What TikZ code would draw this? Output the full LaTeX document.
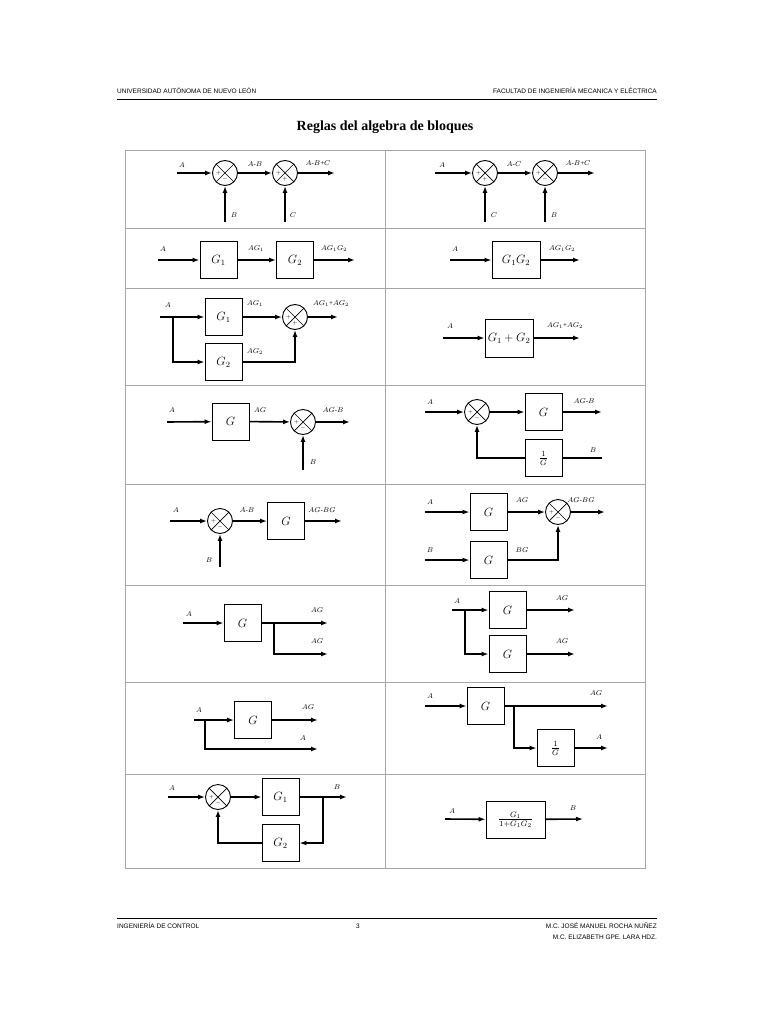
\documentclass[tikz,border=0pt]{standalone}
\usepackage{amsmath}
\usepackage{fontspec}
\setmainfont{Liberation Serif}
\setsansfont{Liberation Sans}
\usetikzlibrary{arrows.meta,calc,positioning}
\tikzset{
  sig/.style={line width=1.6pt,-{Latex[length=7pt,width=5pt]}},
  wire/.style={line width=1.6pt},
  blk/.style={draw,line width=0.9pt,minimum width=37pt,minimum height=37pt,inner sep=0pt,font=\large},
  sum/.style={circle,draw,line width=0.9pt,minimum size=25pt,inner sep=0pt,
    path picture={\draw[line width=0.7pt] (path picture bounding box.north west)--(path picture bounding box.south east)
      (path picture bounding box.north east)--(path picture bounding box.south west);}},
  lbl/.style={font=\scriptsize},
  hdr/.style={font=\sffamily\fontsize{6.5}{7}\selectfont,inner sep=0pt},
  grid/.style={line width=0.6pt,gray!70}
}
\newcommand{\sgn}[3]{\node[font=\tiny,inner sep=0pt] at ($(#1)+(-6.5,0)$) {$#2$};
  \node[font=\tiny,inner sep=0pt] at ($(#1)+(0,6.5)$) {$#3$};}
\begin{document}
\begin{tikzpicture}[x=1pt,y=-1pt]
    \useasboundingbox (0,0) rectangle (768,1024);
    % Header and footer
    \node[hdr,anchor=west] (uni) at (117,91) {UNIVERSIDAD AUTÓNOMA DE NUEVO LEÓN};
    \node[hdr,anchor=east] (fac) at (657,91) {FACULTAD DE INGENIERÍA MECANICA Y ELÉCTRICA};
    \draw[line width=0.5pt] (117,99) -- (657,99);
    \node[font=\bfseries\fontsize{14}{16}\selectfont] (title) at (385,127) {Reglas del algebra de bloques};
    \draw[line width=0.5pt] (117,918) -- (657,918);
    \node[hdr,anchor=west] (ing) at (117,926) {INGENIERÍA DE CONTROL};
    \node[hdr] (pg) at (358,926) {3};
    \node[hdr,anchor=east] (au1) at (657,926) {M.C. JOSÉ MANUEL ROCHA NUÑEZ};
    \node[hdr,anchor=east] (au2) at (657,937) {M.C. ELIZABETH GPE. LARA HDZ.};
    % Table
    \draw[grid] (125,150) rectangle (645,868);
    \draw[grid] (385,150) -- (385,868);
    \foreach \y in {228,288,385,484,585,682,774}
        \draw[grid] (125,\y) -- (645,\y);

    % Row 1 left
    \coordinate (a1) at (177,173);
    \node[sum] (s1a) at (225,173) {}; \sgn{s1a}{+}{-}
    \node[sum] (s1b) at (285,173) {}; \sgn{s1b}{+}{+}
    \coordinate (o1) at (335,173);
    \coordinate (b1) at (225,222); \coordinate (c1) at (285,222);
    \draw[sig] (a1) -- (s1a); \draw[sig] (s1a) -- (s1b); \draw[sig] (s1b) -- (o1);
    \draw[sig] (b1) -- (s1a); \draw[sig] (c1) -- (s1b);
    \node[lbl] at (182,165) {$A$}; \node[lbl] at (255,164) {$A\text{-}B$};
    \node[lbl] at (318,163) {$A\text{-}B\text{+}C$};
    \node[lbl] at (234,215) {$B$}; \node[lbl] at (293,215) {$C$};
    % Row 1 right
    \coordinate (a1r) at (435,173);
    \node[sum] (s1c) at (485,173) {}; \sgn{s1c}{+}{+}
    \node[sum] (s1d) at (545,173) {}; \sgn{s1d}{+}{-}
    \coordinate (o1r) at (595,173);
    \coordinate (c1r) at (485,222); \coordinate (b1r) at (545,222);
    \draw[sig] (a1r) -- (s1c); \draw[sig] (s1c) -- (s1d); \draw[sig] (s1d) -- (o1r);
    \draw[sig] (c1r) -- (s1c); \draw[sig] (b1r) -- (s1d);
    \node[lbl] at (442,165) {$A$}; \node[lbl] at (514,164) {$A\text{-}C$};
    \node[lbl] at (578,163) {$A\text{-}B\text{+}C$};
    \node[lbl] at (494,215) {$C$}; \node[lbl] at (554,215) {$B$};

    % Row 2
    \coordinate (a2) at (158,260);
    \node[blk] (g21) at (218.5,260) {$G_1$};
    \node[blk] (g22) at (295,260) {$G_2$};
    \coordinate (o2) at (355,260);
    \draw[sig] (a2) -- (g21); \draw[sig] (g21) -- (g22); \draw[sig] (g22) -- (o2);
    \node[lbl] at (163,249) {$A$}; \node[lbl] at (256,249) {$AG_1$};
    \node[lbl] at (334,249) {$AG_1G_2$};
    \coordinate (a2r) at (450,260);
    \node[blk,minimum width=48pt] (g2r) at (516,260) {$G_1G_2$};
    \coordinate (o2r) at (580,260);
    \draw[sig] (a2r) -- (g2r); \draw[sig] (g2r) -- (o2r);
    \node[lbl] at (455,249) {$A$}; \node[lbl] at (562,249) {$AG_1G_2$};

    % Row 3
    \coordinate (a3) at (160,317); \coordinate (j3) at (173,317);
    \node[blk] (g31) at (223.5,317) {$G_1$};
    \node[blk] (g32) at (223.5,362) {$G_2$};
    \node[sum] (s3) at (295,317) {}; \sgn{s3}{+}{+}
    \coordinate (o3) at (338,317);
    \draw[wire] (a3) -- (j3); \draw[sig] (j3) -- (g31); \draw[sig] (j3) |- (g32);
    \draw[sig] (g31) -- (s3); \draw[sig] (g32) -| (s3); \draw[sig] (s3) -- (o3);
    \node[lbl] at (168,305) {$A$}; \node[lbl] at (255,304) {$AG_1$};
    \node[lbl] at (331,304) {$AG_1\text{+}AG_2$}; \node[lbl] at (255,352) {$AG_2$};
    \coordinate (a3r) at (443,338);
    \node[blk,minimum width=48pt,minimum height=38pt] (g3r) at (509,338) {$G_1+G_2$};
    \coordinate (o3r) at (580,338);
    \draw[sig] (a3r) -- (g3r); \draw[sig] (g3r) -- (o3r);
    \node[lbl] at (450,326) {$A$}; \node[lbl] at (565,326) {$AG_1\text{+}AG_2$};

    % Row 4
    \coordinate (a4) at (167,422);
    \node[blk] (g4) at (230.5,421.5) {$G$};
    \node[sum] (s4) at (303,422) {}; \sgn{s4}{+}{-}
    \coordinate (o4) at (350,422); \coordinate (b4) at (303,470);
    \draw[sig] (a4) -- (g4); \draw[sig] (g4) -- (s4); \draw[sig] (s4) -- (o4);
    \draw[sig] (b4) -- (s4);
    \node[lbl] at (172,410) {$A$}; \node[lbl] at (260,410) {$AG$};
    \node[lbl] at (333,410) {$AG\text{-}B$}; \node[lbl] at (313,462) {$B$};
    \coordinate (a4r) at (425,412);
    \node[sum] (s4r) at (477,412) {}; \sgn{s4r}{+}{-}
    \node[blk] (g4r) at (543.5,412) {$G$};
    \node[blk] (h4r) at (543.5,458) {$\frac{1}{G}$};
    \coordinate (o4r) at (602,412); \coordinate (b4r) at (602,458);
    \draw[sig] (a4r) -- (s4r); \draw[sig] (s4r) -- (g4r); \draw[sig] (g4r) -- (o4r);
    \draw[wire] (b4r) -- (h4r); \draw[sig] (h4r) -| (s4r);
    \node[lbl] at (430,402) {$A$}; \node[lbl] at (584,401) {$AG\text{-}B$};
    \node[lbl] at (593,450) {$B$};

    % Row 5
    \coordinate (a5) at (170,521);
    \node[sum] (s5) at (220,521) {}; \sgn{s5}{+}{-}
    \node[blk] (g5) at (286,521) {$G$};
    \coordinate (o5) at (342,521); \coordinate (b5) at (220,567);
    \draw[sig] (a5) -- (s5); \draw[sig] (s5) -- (g5); \draw[sig] (g5) -- (o5);
    \draw[sig] (b5) -- (s5);
    \node[lbl] at (176,510) {$A$}; \node[lbl] at (247,510) {$A\text{-}B$};
    \node[lbl] at (322,510) {$AG\text{-}BG$}; \node[lbl] at (209,560) {$B$};
    \coordinate (a5r) at (425,512); \coordinate (b5r) at (425,560);
    \node[blk] (g5a) at (488.5,512) {$G$};
    \node[blk] (g5b) at (488.5,560) {$G$};
    \node[sum] (s5r) at (558,512) {}; \sgn{s5r}{+}{-}
    \coordinate (o5r) at (605,512);
    \draw[sig] (a5r) -- (g5a); \draw[sig] (b5r) -- (g5b); \draw[sig] (g5a) -- (s5r);
    \draw[sig] (g5b) -| (s5r); \draw[sig] (s5r) -- (o5r);
    \node[lbl] at (430,502) {$A$}; \node[lbl] at (522,500) {$AG$};
    \node[lbl] at (581,500) {$AG\text{-}BG$}; \node[lbl] at (430,550) {$B$};
    \node[lbl] at (522,550) {$BG$};

    % Row 6
    \coordinate (a6) at (183,623);
    \node[blk] (g6) at (242.5,623) {$G$};
    \coordinate (j6) at (274,623);
    \coordinate (o6a) at (328,623); \coordinate (o6b) at (328,654);
    \draw[sig] (a6) -- (g6); \draw[sig] (g6) -- (o6a); \draw[sig] (j6) |- (o6b);
    \node[lbl] at (189,614) {$A$}; \node[lbl] at (317,610) {$AG$};
    \node[lbl] at (317,641) {$AG$};
    \coordinate (a6r) at (452,610); \coordinate (j6r) at (465,610);
    \node[blk] (g6a) at (507.5,610) {$G$};
    \node[blk] (g6b) at (507.5,654) {$G$};
    \coordinate (o6c) at (575,610); \coordinate (o6d) at (575,654);
    \draw[wire] (a6r) -- (j6r); \draw[sig] (j6r) -- (g6a); \draw[sig] (j6r) |- (g6b);
    \draw[sig] (g6a) -- (o6c); \draw[sig] (g6b) -- (o6d);
    \node[lbl] at (457,601) {$A$}; \node[lbl] at (562,598) {$AG$};
    \node[lbl] at (562,641) {$AG$};

    % Row 7
    \coordinate (a7) at (194,720); \coordinate (j7) at (205,720);
    \node[blk] (g7) at (253,720) {$G$};
    \coordinate (o7a) at (318,720); \coordinate (o7b) at (318,749);
    \draw[wire] (a7) -- (j7); \draw[sig] (j7) -- (g7); \draw[sig] (g7) -- (o7a);
    \draw[sig] (j7) |- (o7b);
    \node[lbl] at (199,710) {$A$}; \node[lbl] at (308,707) {$AG$};
    \node[lbl] at (303,738) {$A$};
    \coordinate (a7r) at (425,706);
    \node[blk] (g7r) at (485.5,706) {$G$};
    \coordinate (j7r) at (514,706);
    \node[blk] (h7r) at (555.5,748) {$\frac{1}{G}$};
    \coordinate (o7c) at (608,706); \coordinate (o7d) at (608,748);
    \draw[sig] (a7r) -- (g7r); \draw[sig] (g7r) -- (o7c); \draw[sig] (j7r) |- (h7r);
    \draw[sig] (h7r) -- (o7d);
    \node[lbl] at (430,696) {$A$}; \node[lbl] at (596,693) {$AG$};
    \node[lbl] at (599,737) {$A$};

    % Row 8
    \coordinate (a8) at (168,797);
    \node[sum] (s8) at (218,797) {}; \sgn{s8}{+}{-}
    \node[blk] (g81) at (280.5,797) {$G_1$};
    \node[blk] (g82) at (280.5,843) {$G_2$};
    \coordinate (j8) at (323,797); \coordinate (o8) at (347,797);
    \draw[sig] (a8) -- (s8); \draw[sig] (s8) -- (g81); \draw[sig] (g81) -- (o8);
    \draw[sig] (j8) |- (g82); \draw[sig] (g82) -| (s8);
    \node[lbl] at (172,788) {$A$}; \node[lbl] at (337,787) {$B$};
    \coordinate (a8r) at (445,819);
    \node[blk,minimum width=59pt] (g8r) at (515.5,819.5) {$\frac{G_1}{1+G_1G_2}$};
    \coordinate (o8r) at (583,819);
    \draw[sig] (a8r) -- (g8r); \draw[sig] (g8r) -- (o8r);
    \node[lbl] at (452,811) {$A$}; \node[lbl] at (573,808) {$B$};
\end{tikzpicture}
\end{document}
